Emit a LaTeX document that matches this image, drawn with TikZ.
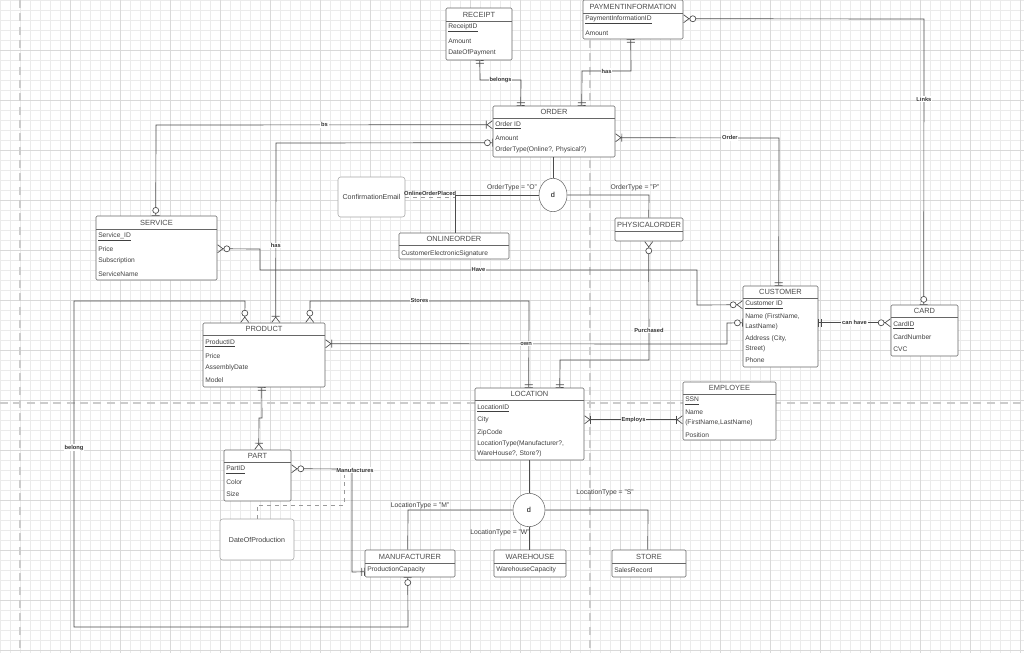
\documentclass[tikz,border=0pt]{standalone}
\usepackage{fontspec}
\setmainfont{Liberation Sans}
\usetikzlibrary{arrows.meta,fit,calc,shapes.geometric}

\tikzset{
  one/.tip={Bar[width=6pt,sep=1.5pt]Bar[width=6pt]},
  zone/.tip={Circle[open,fill=white,length=5pt,sep=1pt]Bar[width=6pt]},
  many/.tip={Bar[width=6pt,sep=0pt]Straight Barb[reversed,length=4pt,width=6pt]},
  zmany/.tip={Circle[open,fill=white,length=5pt,sep=0pt]Straight Barb[reversed,length=4pt,width=6pt]},
  entbox/.style={draw=black!60, fill=white, rounded corners=1pt, inner sep=0pt},
  note/.style={draw=black!35, fill=white, rounded corners=2pt, inner sep=0pt, font=\fontsize{5.3}{6.5}\selectfont, text=black!75},
  title/.style={font=\fontsize{5.6}{7}\selectfont, text=black!70},
  attr/.style={anchor=west, inner sep=0pt, align=left, font=\fontsize{5}{7.2}\selectfont, text=black!75},
  rel/.style={draw=black!70, line width=0.5pt},
  lbl/.style={fill=white, inner sep=0.6pt, font=\fontsize{4.3}{5}\selectfont\bfseries, text=black!80},
  cond/.style={inner sep=0pt, font=\fontsize{5.1}{6}\selectfont, text=black!75},
  disj/.style={draw=black!60, fill=white, ellipse, minimum width=21pt, minimum height=25pt, inner sep=0pt, font=\fontsize{5.5}{6}\selectfont},
}

% entity box: name, x1, y1, x2, y2, header line y, title
\newcommand\entity[7]{%
  \node (#1) [entbox, fit={(#2,#3) (#4,#5)}] {};
  \draw[black!60] (#2,#6) -- (#4,#6);
  \node[title] at ({(#2+#4)/2},{(#3+#6)/2}) {#7};
}
\newcommand\attr[3]{\node[attr] at (#1+2,#2+1) {#3};}

\begin{document}
\begin{tikzpicture}[x=0.75pt,y=-0.75pt]
\useasboundingbox (0,0) rectangle (1024,653);
% background grid
\fill[white] (0,0) rectangle (1024,653);
\foreach \gx in {0,10,...,1020} \draw[black!8, line width=0.3pt] (\gx,0) -- (\gx,653);
\foreach \gy in {0,10,...,650} \draw[black!8, line width=0.3pt] (0,\gy) -- (1024,\gy);
\foreach \gx in {70,120,...,1020} \draw[black!15, line width=0.4pt] (\gx,0) -- (\gx,653);
\foreach \gy in {50,100,...,650} \draw[black!15, line width=0.4pt] (0,\gy) -- (1024,\gy);
\draw[black!20, dashed, line width=1pt, dash pattern=on 6pt off 4pt] (20,0) -- (20,653) (590,0) -- (590,653) (0,403) -- (1024,403);

% entities
\entity{receipt}{446}{8}{512}{60}{21}{RECEIPT}
\attr{446}{27}{\underline{ReceiptID}} \attr{446}{40}{Amount} \attr{446}{52}{DateOfPayment}
\entity{payinfo}{583}{0}{683}{39}{13}{PAYMENTINFORMATION}
\attr{583}{19}{\underline{PaymentInformationID}} \attr{583}{32}{Amount}
\entity{order}{493}{106}{615}{157}{118}{ORDER}
\attr{493}{124}{\underline{Order ID}} \attr{493}{137}{Amount} \attr{493}{149}{OrderType(Online?, Physical?)}
\node (confemail) [note, minimum width=50.25pt, minimum height=30pt] at (371.5,197) {ConfirmationEmail};
\node (dorder) [disj] at (553,195) {d};
\entity{onlineorder}{399}{233}{509}{259}{245}{ONLINEORDER}
\attr{399}{253}{CustomerElectronicSignature}
\entity{physorder}{615}{218}{683}{241}{231}{PHYSICALORDER}
\entity{service}{96}{216}{217}{280}{229}{SERVICE}
\attr{96}{236}{\underline{Service\_ID}} \attr{96}{248}{Price} \attr{96}{260}{Subscription} \attr{96}{273}{ServiceName}
\entity{customer}{743}{286}{818}{367}{298}{CUSTOMER}
\attr{743}{304}{\underline{Customer ID}} \attr{743}{321}{Name (FirstName,\\LastName)} \attr{743}{343}{Address (City,\\Street)} \attr{743}{359}{Phone}
\entity{card}{891}{305}{958}{356}{317}{CARD}
\attr{891}{324}{\underline{CardID}} \attr{891}{336}{CardNumber} \attr{891}{348}{CVC}
\entity{product}{203}{323}{325}{387}{335}{PRODUCT}
\attr{203}{342}{\underline{ProductID}} \attr{203}{355}{Price} \attr{203}{367}{AssemblyDate} \attr{203}{379}{Model}
\entity{location}{475}{388}{584}{460}{400}{LOCATION}
\attr{475}{407}{\underline{LocationID}} \attr{475}{419}{City} \attr{475}{432}{ZipCode} \attr{475}{448}{LocationType(Manufacturer?,\\WareHouse?, Store?)}
\entity{employee}{683}{382}{776}{440}{394}{EMPLOYEE}
\attr{683}{400}{\underline{SSN}} \attr{683}{417}{Name\\(FirstName,LastName)} \attr{683}{434}{Position}
\entity{part}{224}{450}{291}{501}{462}{PART}
\attr{224}{469}{\underline{PartID}} \attr{224}{481}{Color} \attr{224}{493}{Size}
\node (dop) [note, minimum width=55.5pt, minimum height=30.75pt] at (257,539.5) {DateOfProduction};
\node (dloc) [disj, minimum width=24pt] at (529,510) {d};
\entity{manuf}{365}{550}{455}{577}{563}{MANUFACTURER}
\attr{365}{569}{ProductionCapacity}
\entity{warehouse}{494}{550}{566}{577}{563}{WAREHOUSE}
\attr{494}{569}{WarehouseCapacity}
\entity{store}{612}{550}{686}{577}{563}{STORE}
\attr{612}{569}{SalesRecord}

% relationships
\draw[rel,{one}-{one}] ($(receipt.south west)+(34,0)$) -- (480,80) -- node[lbl]{belongs} (521,80) -- ($(order.north west)+(28,0)$);
\draw[rel,{one}-{one}] ($(payinfo.south west)+(48,0)$) -- (631,71) -- node[lbl]{has} (582,71) -- ($(order.north west)+(89,0)$);
\draw[rel,{zone}-{many}] ($(service.north west)+(60,0)$) -- (156,125) -- node[lbl]{bs} ($(order.north west)+(0,19)$);
\draw[rel,{many}-{zone}] ($(product.north west)+(73,0)$) -- node[lbl,pos=0.43]{has} (276,143) -- ($(order.north west)+(0,37)$);
\draw[rel,{many}-{one}] ($(order.north east)+(0,32)$) -- node[lbl,pos=0.7]{Order} (779,138) -- ($(customer.north west)+(36,0)$);
\draw[rel,{zmany}-{zone}] ($(payinfo.north east)+(0,19)$) -- (924,19) -- node[lbl,pos=0.28]{Links} ($(card.north west)+(33,0)$);
\draw[rel] (order.south -| dorder) -- (dorder.north);
\draw[rel] (dorder.west) -- (455,195) -- (onlineorder.north -| 455,0);
\draw[rel] (dorder.east) -- (649,195) -- ($(physorder.north west)+(34,0)$);
\draw[rel,black!40,dashed] (confemail.east) -- node[lbl,fill=none,above=0.5pt]{OnlineOrderPlaced} (455,197);
\node[cond] at (512,188) {OrderType = "O"};
\node[cond] at (635,188) {OrderType = "P"};
\draw[rel,{zmany}-{one}] ($(physorder.south west)+(34,0)$) -- node[lbl,pos=0.75]{Purchased} (649,360) -- (560,360) -- ($(location.north west)+(85,0)$);
\draw[rel,{zmany}-{zmany}] ($(service.north east)+(0,33)$) -- (260,249) -- (260,270) -- node[lbl]{Have} (697,270) -- (697,305) -- ($(customer.north west)+(0,19)$);
\draw[rel,{zmany}-{one}] ($(product.north west)+(107,0)$) -- (310,301) -- node[lbl]{Stores} (529,301) -- ($(location.north west)+(54,0)$);
\draw[rel,{zmany}-{zone}] ($(product.north west)+(42,0)$) -- (245,301) -- (74,301) -- node[lbl,pos=0.45]{belong} (74,627) -- (408,627) -- ($(manuf.south west)+(43,0)$);
\draw[rel,{many}-{zone}] ($(product.north east)+(0,21)$) -- node[lbl]{own} (727,344) -- (727,323) -- ($(customer.north west)+(0,37)$);
\draw[rel,{one}-{zmany}] ($(customer.north east)+(0,37)$) -- node[lbl]{can have} ($(card.north west)+(0,18)$);
\draw[rel,{many}-{many}] ($(location.north east)+(0,32)$) -- node[lbl]{Employs} ($(employee.north west)+(0,38)$);
\draw[rel,{one}-{many}] ($(product.south west)+(59,0)$) -- (262,418) -- (259,418) -- ($(part.north west)+(35,0)$);
\draw[rel,{zmany}-{one}] ($(part.north east)+(0,19)$) -- (352,469) -- (352,572) -- ($(manuf.north west)+(0,22)$);
\node[lbl] at (355,470) {Manufactures};
\draw[rel,black!40,dashed] (dop.north) -- (257,505) -- (344,505) -- (344,475);
\draw[rel] (location.south -| dloc) -- (dloc.north);
\draw[rel] (dloc.west) -- (408,510) -- ($(manuf.north west)+(43,0)$);
\draw[rel] (dloc.south) -- (warehouse.north -| dloc);
\draw[rel] (dloc.east) -- (648,510) -- ($(store.north west)+(36,0)$);
\node[cond] at (420,506) {LocationType = "M"};
\node[cond] at (500,533) {LocationType = "W"};
\node[cond] at (605,493) {LocationType = "S"};
\end{tikzpicture}
\end{document}
